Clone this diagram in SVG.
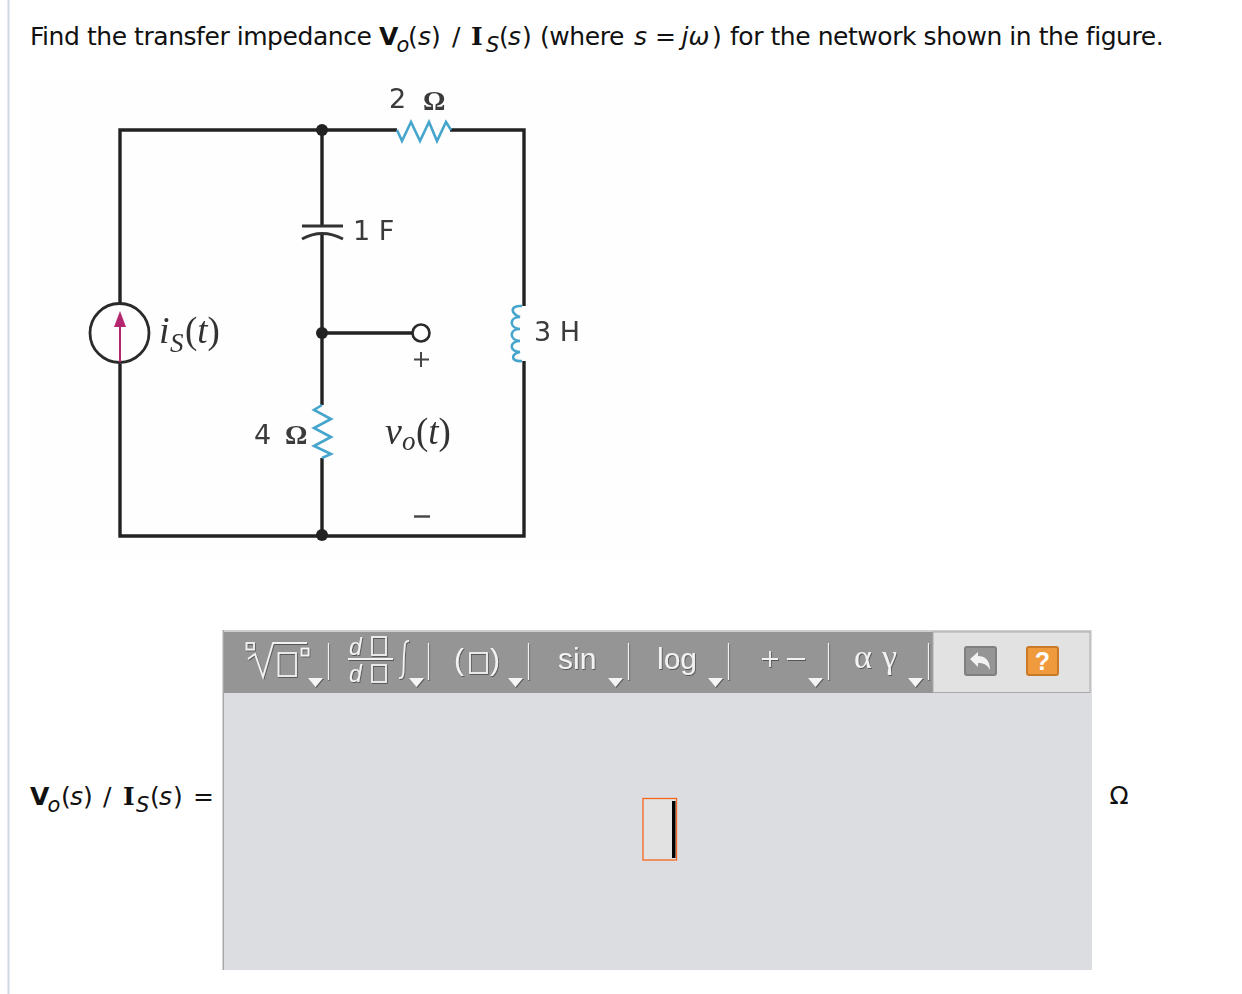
<svg xmlns="http://www.w3.org/2000/svg" width="1242" height="994" viewBox="0 0 1242 994">
<style>
.t{font-family:"DejaVu Sans",sans-serif;font-size:25px;letter-spacing:-.45px;fill:#111}
.b{font-weight:bold}
.i{font-style:italic}
.sub{font-size:21px;font-style:italic}
.serif{font-family:"DejaVu Serif",serif;font-weight:bold}
.w{fill:none;stroke:#222;stroke-width:3.4}
.c{fill:none;stroke:#44a5cc;stroke-width:2.6}
.lab{font-family:"DejaVu Sans",sans-serif;font-size:27px;fill:#3a3a3a}
.om{font-family:"Liberation Serif",serif;font-size:28px;font-weight:bold;fill:#3a3a3a}
.m{font-family:"Liberation Serif",serif;font-style:italic;font-size:38px;fill:#333}
.p{font-family:"Liberation Serif",serif;font-size:37px;fill:#333}
.ms{font-family:"Liberation Serif",serif;font-style:italic;font-size:27px;fill:#333}
.tb{font-family:"Liberation Sans",sans-serif;font-size:30px;fill:#f2f2f2}
.d{font-family:"Liberation Sans",sans-serif;font-style:italic;font-size:23px;fill:#f2f2f2}
.g{font-family:"Liberation Serif",serif;font-size:34px;fill:#f2f2f2}
.gl{fill:none;stroke:#f2f2f2;stroke-width:1.8}
.sep{stroke:#f2f2f2;stroke-width:1.2}
.tri{fill:#f4f4f4}
</style>
<defs>
<filter id="soft" x="-5%" y="-5%" width="110%" height="110%"><feGaussianBlur stdDeviation="0.45"/></filter>
<filter id="shadow" x="-5%" y="-20%" width="110%" height="140%"><feDropShadow dx="0.800" dy="1" stdDeviation="0.300" flood-color="#555"/></filter>
</defs>
<rect width="1242" height="994" fill="#fff"/>
<rect x="7.500" y="0" width="2" height="994" fill="#cfd7e3"/>
<rect x="30" y="80" width="620" height="480" fill="#fefefe"/>
<g id="question">
<text class="t" y="44.500"><tspan x="30">Find the transfer impedance </tspan><tspan class="b" x="379">V</tspan><tspan class="sub" x="396.500" dy="7">o</tspan><tspan x="408" dy="-7">(</tspan><tspan class="i" x="418">s</tspan><tspan x="431">) </tspan><tspan x="452">/ </tspan><tspan class="serif" x="471">I</tspan><tspan class="sub" x="486" dy="7">S</tspan><tspan x="499" dy="-7">(</tspan><tspan class="i" x="508">s</tspan><tspan x="522">) </tspan><tspan x="540">(where </tspan><tspan class="i" x="634">s </tspan><tspan x="655">= </tspan><tspan class="i" x="681.500">j</tspan><tspan class="i" x="688.500">ω</tspan><tspan x="712">) </tspan><tspan x="730">for the network shown in the figure.</tspan></text>
</g>
<g id="circuit" filter="url(#soft)">
<g id="connectors">
<path class="w" d="M120 303V130H397M450 130H524V306M524 361V536H120V364"/>
<path class="w" d="M322 130V226M322 233V405M322 458V536M322 333H413"/>
</g>
<g id="node-top"><circle cx="322" cy="130" r="6" fill="#222"/></g>
<g id="node-mid"><circle cx="322" cy="333" r="6" fill="#222"/></g>
<g id="node-bottom"><circle cx="322" cy="535" r="6" fill="#222"/></g>
<g id="resistor-2">
<path class="c" d="M397 130L402 141L411 122L420 141L429 122L437 141L446 122L451 130"/>
<text class="lab" x="389" y="108">2</text><text class="om" x="423" y="110">Ω</text>
</g>
<g id="capacitor">
<path fill="none" stroke="#333" stroke-width="2.800" d="M302 226H343M302 239Q322 228 343 239"/>
<text class="lab" x="353" y="240">1 F</text>
</g>
<g id="source">
<circle cx="119.500" cy="333" r="29.500" fill="none" stroke="#2a2a2a" stroke-width="2.800"/>
<path d="M120 362V325" stroke="#b4286f" stroke-width="2"/>
<path d="M120 311L126 327H114Z" fill="#b4286f"/>
<text class="m" x="159" y="343">i</text><text class="ms" x="170" y="352">S</text><text class="p" x="185" y="343">(<tspan class="i">t</tspan>)</text>
</g>
<g id="terminal">
<circle cx="421" cy="333" r="8.500" fill="#fff" stroke="#2a2a2a" stroke-width="2.600"/>
<path d="M421 352V367M414 359.500H429" stroke="#444" stroke-width="2"/>
<path d="M414 516.500H430" stroke="#444" stroke-width="2.400"/>
<text class="m" x="385" y="444">v</text><text class="ms" x="402" y="450">o</text><text class="p" x="416" y="444">(<tspan class="i">t</tspan>)</text>
</g>
<g id="inductor">
<path class="c" d="M522 306C508 305 512 315 520 317C509 317 509 328 520 329C509 329 509 340 520 341C509 341 509 352 520 352C511 354 510 362 522 361"/>
<text class="lab" x="534" y="341">3 H</text>
</g>
<g id="resistor-4">
<path class="c" d="M322 405L314 410L331 419L314 428L331 437L314 446L331 454L322 458"/>
<text class="lab" x="254" y="444">4</text><text class="om" x="285" y="444">Ω</text>
</g>
</g>
<g id="editor">
<rect x="223" y="630" width="869" height="340" fill="#dcdde0"/>
<rect x="222.500" y="630" width="1.500" height="340" fill="#a8a8aa"/>
<rect x="224" y="630" width="867" height="2" fill="#cfcfcf"/>
<rect x="224" y="632" width="709" height="61" fill="#959595"/>
<rect x="933" y="632" width="157" height="60.500" fill="#e2e2e2" stroke="#aaa" stroke-width="1"/>
<g id="toolbar-glyphs" filter="url(#shadow)">
<g id="tool-root">
<rect class="gl" x="246.500" y="643" width="7.500" height="6.500"/>
<path class="gl" d="M248 659L255 654L263 677L273 643H307"/>
<rect class="gl" x="278.500" y="653" width="17.500" height="23"/>
<rect class="gl" x="301.500" y="648.500" width="7" height="7"/>
</g>
<g id="tool-calc">
<text class="d" x="349" y="655">d</text>
<rect class="gl" x="372" y="637" width="14" height="18"/>
<path class="gl" d="M348 659H393"/>
<text class="d" x="349" y="682">d</text>
<rect class="gl" x="372" y="665" width="14" height="17"/>
<path class="gl" d="M399 678C405 679 403 670 404 655C405 644 404 641 409 641"/>
</g>
<g id="tool-paren">
<text class="tb" x="454" y="670">(</text>
<rect class="gl" x="470" y="653" width="17" height="20"/>
<text class="tb" x="490" y="670">)</text>
</g>
<text class="tb" x="558" y="669">sin</text>
<text class="tb" x="657" y="669">log</text>
<path class="gl" d="M762 659H778M770 651V667M787 659H805" stroke-width="2.200"/>
<text class="g" x="854" y="668">α</text><text class="g" x="882" y="668">γ</text>
<path class="sep" d="M328.500 643V680M428.500 643V680M528.500 643V680M628.500 643V680M728.500 643V680M828.500 643V680M928.500 643V680"/>
<path class="tri" d="M308 678H323L315.500 687ZM409 678H424L416.500 687ZM508 678H523L515.500 687ZM608 678H623L615.500 687ZM708 678H723L715.500 687ZM808 678H823L815.500 687ZM908 678H923L915.500 687Z"/>
</g>
<g id="tool-undo">
<rect x="965" y="647" width="31" height="28" rx="2" fill="#959595" stroke="#808080" stroke-width="2"/>
<path d="M970 659L978 652V656C985 656 990 660 990 670C987 664 983 663 978 663V667Z" fill="#f2f2f2"/>
</g>
<g id="tool-help">
<rect x="1027" y="647" width="31" height="28" rx="2" fill="#f09a3e" stroke="#c97a28" stroke-width="2"/>
<text x="1042.500" y="670" text-anchor="middle" font-family="Liberation Sans,sans-serif" font-size="25" font-weight="bold" fill="#fff">?</text>
</g>
<g id="input">
<rect x="643" y="798.500" width="33.500" height="61.500" fill="#e2e2e2" stroke="#f4661e" stroke-width="1.300"/>
<rect x="672" y="801" width="3.500" height="57" fill="#000"/>
</g>
</g>
<g id="answer">
<text class="t" y="804.500"><tspan class="b" x="30">V</tspan><tspan class="sub" x="47.500" dy="7">o</tspan><tspan x="61" dy="-7">(</tspan><tspan class="i" x="70">s</tspan><tspan x="83">) </tspan><tspan x="103">/ </tspan><tspan class="serif" x="123">I</tspan><tspan class="sub" x="136" dy="7">S</tspan><tspan x="150" dy="-7">(</tspan><tspan class="i" x="159">s</tspan><tspan x="173">) </tspan><tspan x="193">=</tspan></text>
<text class="t" x="1109.500" y="803.500">Ω</text>
</g>
</svg>
